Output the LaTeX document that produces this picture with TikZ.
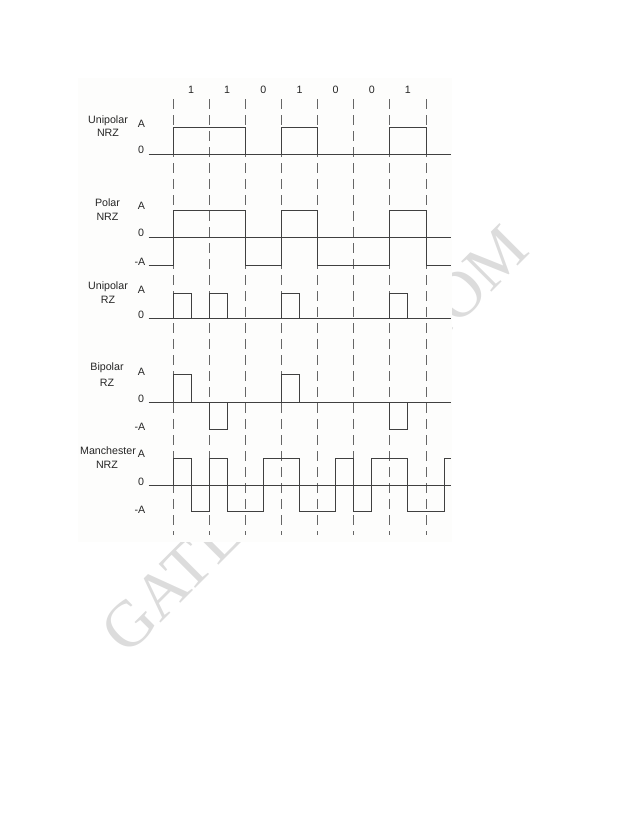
\documentclass[tikz,border=0pt]{standalone}
\usepackage{fontspec}
\setmainfont{Liberation Sans}
\newfontfamily\wmfont{Liberation Serif}
\definecolor{panelbg}{RGB}{253,253,252}
\definecolor{wmgray}{RGB}{220,220,220}
\begin{document}
\begin{tikzpicture}[x=0.75pt,y=-0.75pt,
  wave/.style={draw=black!75, line width=0.75pt, line join=miter},
  zeroline/.style={draw=black!75, line width=0.75pt},
  bitgrid/.style={draw=black!60, line width=0.65pt, dash pattern=on 7.5pt off 4.5pt},
  lbl/.style={font=\fontsize{8}{9}\selectfont, text=black!85, inner sep=0pt},
  wm/.style={font=\wmfont\fontsize{49}{49}\selectfont, text=wmgray, inner sep=0pt, rotate=45}]
\useasboundingbox (0,0) rectangle (638,826);
% watermark (under the panel)
\node[wm, anchor=base west] (wmA) at (127,657) {GATE};
\node[wm, anchor=base east] (wmB) at (532,252) {COM};
% panel background
\fill[panelbg] (78,78) rectangle (452,542);
% bit boundaries
\foreach \x in {173,209.14,245.29,281.43,317.57,353.71,389.86,426}
  \draw[bitgrid] (\x,99) -- (\x,535);
% bit labels
\node[lbl] (b1) at (191.07,90.3) {1};
\node[lbl] (b2) at (227.21,90.3) {1};
\node[lbl] (b3) at (263.36,90.3) {0};
\node[lbl] (b4) at (299.5,90.3) {1};
\node[lbl] (b5) at (335.64,90.3) {0};
\node[lbl] (b6) at (371.79,90.3) {0};
\node[lbl] (b7) at (407.93,90.3) {1};
% ---------- Unipolar NRZ
\node[lbl] (t1a) at (108,121) {Unipolar};
\node[lbl] (t1b) at (108,133) {NRZ};
\node[lbl] (l1A) at (141.5,124) {A};
\node[lbl] (l10) at (141,150) {0};
\draw[zeroline] (148.7,154.7) -- (450.7,154.7);
\draw[wave] (173,154.7) -- (173,127) -- (245.29,127) -- (245.29,154.7);
\draw[wave] (281.43,154.7) -- (281.43,127) -- (317.57,127) -- (317.57,154.7);
\draw[wave] (389.86,154.7) -- (389.86,127) -- (426,127) -- (426,154.7);
% ---------- Polar NRZ
\node[lbl] (t2a) at (107.5,203) {Polar};
\node[lbl] (t2b) at (107.5,217) {NRZ};
\node[lbl] (l2A) at (141.5,206) {A};
\node[lbl] (l20) at (141,233) {0};
\node[lbl] (l2m) at (140,262) {-A};
\draw[zeroline] (148.7,237.7) -- (450.7,237.7);
\draw[wave] (148.7,265) -- (173,265) -- (173,210) -- (245.29,210) -- (245.29,265)
  -- (281.43,265) -- (281.43,210) -- (317.57,210) -- (317.57,265)
  -- (389.86,265) -- (389.86,210) -- (426,210) -- (426,265) -- (450.7,265);
% ---------- Unipolar RZ
\node[lbl] (t3a) at (108,287) {Unipolar};
\node[lbl] (t3b) at (108,300) {RZ};
\node[lbl] (l3A) at (141.5,290) {A};
\node[lbl] (l30) at (141,315) {0};
\draw[zeroline] (148.7,318.7) -- (450.7,318.7);
\foreach \x/\y in {173/191.07,209.14/227.21,281.43/299.5,389.86/407.93}
  \draw[wave] (\x,318.7) -- (\x,293.3) -- (\y,293.3) -- (\y,318.7);
% ---------- Bipolar RZ
\node[lbl] (t4a) at (107,368) {Bipolar};
\node[lbl] (t4b) at (107,383) {RZ};
\node[lbl] (l4A) at (141.5,372) {A};
\node[lbl] (l40) at (141,399) {0};
\node[lbl] (l4m) at (140,427) {-A};
\draw[zeroline] (148.7,402.3) -- (450.7,402.3);
\foreach \x/\y in {173/191.07,281.43/299.5}
  \draw[wave] (\x,402.3) -- (\x,374.3) -- (\y,374.3) -- (\y,402.3);
\foreach \x/\y in {209.14/227.21,389.86/407.93}
  \draw[wave] (\x,402.3) -- (\x,429.3) -- (\y,429.3) -- (\y,402.3);
% ---------- Manchester NRZ
\node[lbl] (t5a) at (108,451) {Manchester};
\node[lbl] (t5b) at (107,465) {NRZ};
\node[lbl] (l5A) at (141.5,454) {A};
\node[lbl] (l50) at (141,482) {0};
\node[lbl] (l5m) at (140,510) {-A};
\draw[zeroline] (148.7,485) -- (450.7,485);
\draw[wave] (173,485) -- (173,458.3) -- (191.07,458.3) -- (191.07,511.7)
  -- (209.14,511.7) -- (209.14,458.3) -- (227.21,458.3) -- (227.21,511.7)
  -- (263.36,511.7) -- (263.36,458.3) -- (299.5,458.3) -- (299.5,511.7)
  -- (335.64,511.7) -- (335.64,458.3) -- (353.71,458.3) -- (353.71,511.7)
  -- (371.79,511.7) -- (371.79,458.3) -- (407.93,458.3) -- (407.93,511.7)
  -- (444.07,511.7) -- (444.07,458.3) -- (450.7,458.3);
\end{tikzpicture}
\end{document}
